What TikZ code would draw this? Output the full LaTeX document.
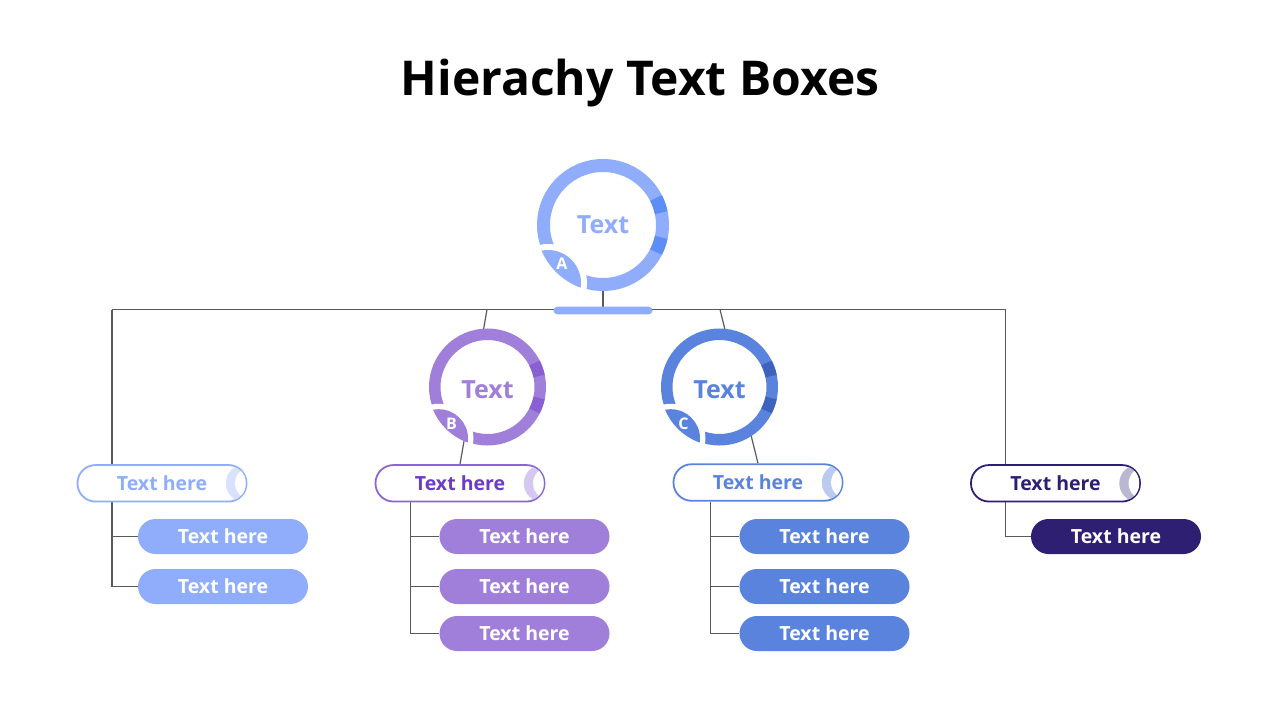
\documentclass[tikz,border=0pt]{standalone}
\usepackage{fontspec}
\setmainfont{Open Sans}
\usetikzlibrary{calc,backgrounds}

\definecolor{lblue}{HTML}{8FADFB}
\definecolor{lbluedk}{HTML}{5D8DF7}
\definecolor{lbluetint}{HTML}{D8E2FD}
\definecolor{purp}{HTML}{A07FDA}
\definecolor{purpdk}{HTML}{8A5FD3}
\definecolor{purpline}{HTML}{8B66D3}
\definecolor{purptext}{HTML}{6B3CC5}
\definecolor{purptint}{HTML}{D5C8F0}
\definecolor{mblue}{HTML}{5A83DD}
\definecolor{mbluedk}{HTML}{3D63BF}
\definecolor{mbluetint}{HTML}{BBCBF0}
\definecolor{navy}{HTML}{2F1F73}
\definecolor{navytint}{HTML}{BAB8D0}
\definecolor{wirecol}{HTML}{595959}

\tikzset{
    ring/.style={circle, draw=#1, fill=white, text=#1, inner sep=0pt,
        font=\bfseries\fontsize{25}{25}\selectfont},
    badge/.style={text=white, inner sep=0pt, font=\bfseries\fontsize{16}{16}\selectfont},
    head/.style={draw=#1, fill=white, line width=1.8pt, rounded corners=18pt,
        minimum width=169pt, minimum height=36.5pt, inner sep=0pt,
        font=\bfseries\fontsize{19.5}{19.5}\selectfont},
    item/.style={fill=#1, text=white, rounded corners=17.5pt,
        minimum width=170pt, minimum height=35pt, inner sep=0pt,
        font=\bfseries\fontsize{19.5}{19.5}\selectfont},
    wire/.style={draw=wirecol, line width=1.2pt},
}

\newcommand{\moon}[2]{%
    \begin{scope}
        \clip[rounded corners=16.5pt] ($(#1.south west)+(1.8,-1.8)$) rectangle ($(#1.north east)+(-1.8,1.8)$);
        \fill[#2] ($(#1.east)+(-3,0)$) circle (18.6);
        \fill[white] ($(#1.east)+(4,0)$) circle (16.3);
    \end{scope}}

\begin{document}
\begin{tikzpicture}[x=1pt,y=-1pt]
    \useasboundingbox (0,0) rectangle (1280,720);

    \node[font=\bfseries\fontsize{48}{48}\selectfont, anchor=base] (title) at (640,95) {Hierachy Text Boxes};

    \node[ring=lblue, line width=13pt, minimum size=119pt] (root) at (603,225) {Text};
    \node[ring=purp, line width=11.5pt, minimum size=105.5pt] (ringB) at (487.5,387) {\raisebox{-2.5pt}[\height][0pt]{Text}};
    \node[ring=mblue, line width=11.5pt, minimum size=105.5pt] (ringC) at (719.5,387) {\raisebox{-2.5pt}[\height][0pt]{Text}};

    \foreach \r/\rad/\lw/\col in {root/59.5/13/lbluedk, ringB/52.75/11.5/purpdk, ringC/52.75/11.5/mbluedk}
        \foreach \a in {12,-27}
            \draw[\col, line width=\lw pt] ($(\r)+(\a:\rad)$) arc[start angle=\a, delta angle=15, radius=\rad];

    \foreach \r/\R/\dx/\dy/\g/\b/\col in {root/66.5/-55/58/39/33/lblue,
            ringB/59/-48.7/51.4/34.6/29.2/purp, ringC/59/-48.7/51.4/34.6/29.2/mblue} {
        \begin{scope}
            \clip (\r.center) circle (\R);
            \fill[white] ($(\r)+(\dx,\dy)$) circle (\g);
            \fill[\col] ($(\r)+(\dx,\dy)$) circle (\b);
        \end{scope}
    }
    \node[badge] (tagA) at ($(root)+(-41,39)$) {A};
    \node[badge] (tagB) at ($(ringB)+(-36,37)$) {B};
    \node[badge] (tagC) at ($(ringC)+(-36,37)$) {C};

    \node[fill=lblue, rounded corners=3.8pt, minimum width=99pt, minimum height=7.6pt, inner sep=0pt] (bar) at (603,310.5) {};

    \node[head=lblue, text=lblue] (headA) at (162,483.3) {Text here};
    \node[head=purpline, text=purptext] (headB) at (460,483.3) {Text here};
    \node[head=mblue, text=mblue] (headC) at (758,482.5) {Text here};
    \node[head=navy, text=navy] (headD) at (1055.5,483.3) {Text here};
    \moon{headA}{lbluetint}
    \moon{headB}{purptint}
    \moon{headC}{mbluetint}
    \moon{headD}{navytint}

    \foreach \y [count=\k] in {536.5,586.5}
        \node[item=lblue] (itemA\k) at (223,\y) {Text here};
    \foreach \y [count=\k] in {536.5,586.5,633.5}
        \node[item=purp] (itemB\k) at (524.5,\y) {Text here};
    \foreach \y [count=\k] in {536.5,586.5,633.5}
        \node[item=mblue] (itemC\k) at (824.5,\y) {Text here};
    \node[item=navy] (itemD1) at (1116,536.5) {Text here};

    \begin{pgfonlayer}{background}
        \coordinate (busL) at (112,309.5);
        \coordinate (busR) at (1005.5,309.5);
        \coordinate (busB) at (487,309.5);
        \coordinate (busC) at (720,309.5);
        \draw[wire] (busL) -- (busR);
        \draw[wire] (root.south) -- (bar.north);
        \draw[wire] (busL) -- (headA.north -| busL);
        \draw[wire] (busR) -- (headD.north -| busR);
        \draw[wire] (busB) -- (headB.north);
        \draw[wire] (busC) -- (headC.north);
        \foreach \g/\x/\n in {A/112/2, B/410.5/3, C/710.5/3, D/1005.5/1} {
            \draw[wire] (\x,0 |- head\g.south) -- (\x,0 |- item\g\n.west);
            \foreach \k in {1,...,\n}
                \draw[wire] (\x,0 |- item\g\k.west) -- (item\g\k.west);
        }
    \end{pgfonlayer}
\end{tikzpicture}
\end{document}
